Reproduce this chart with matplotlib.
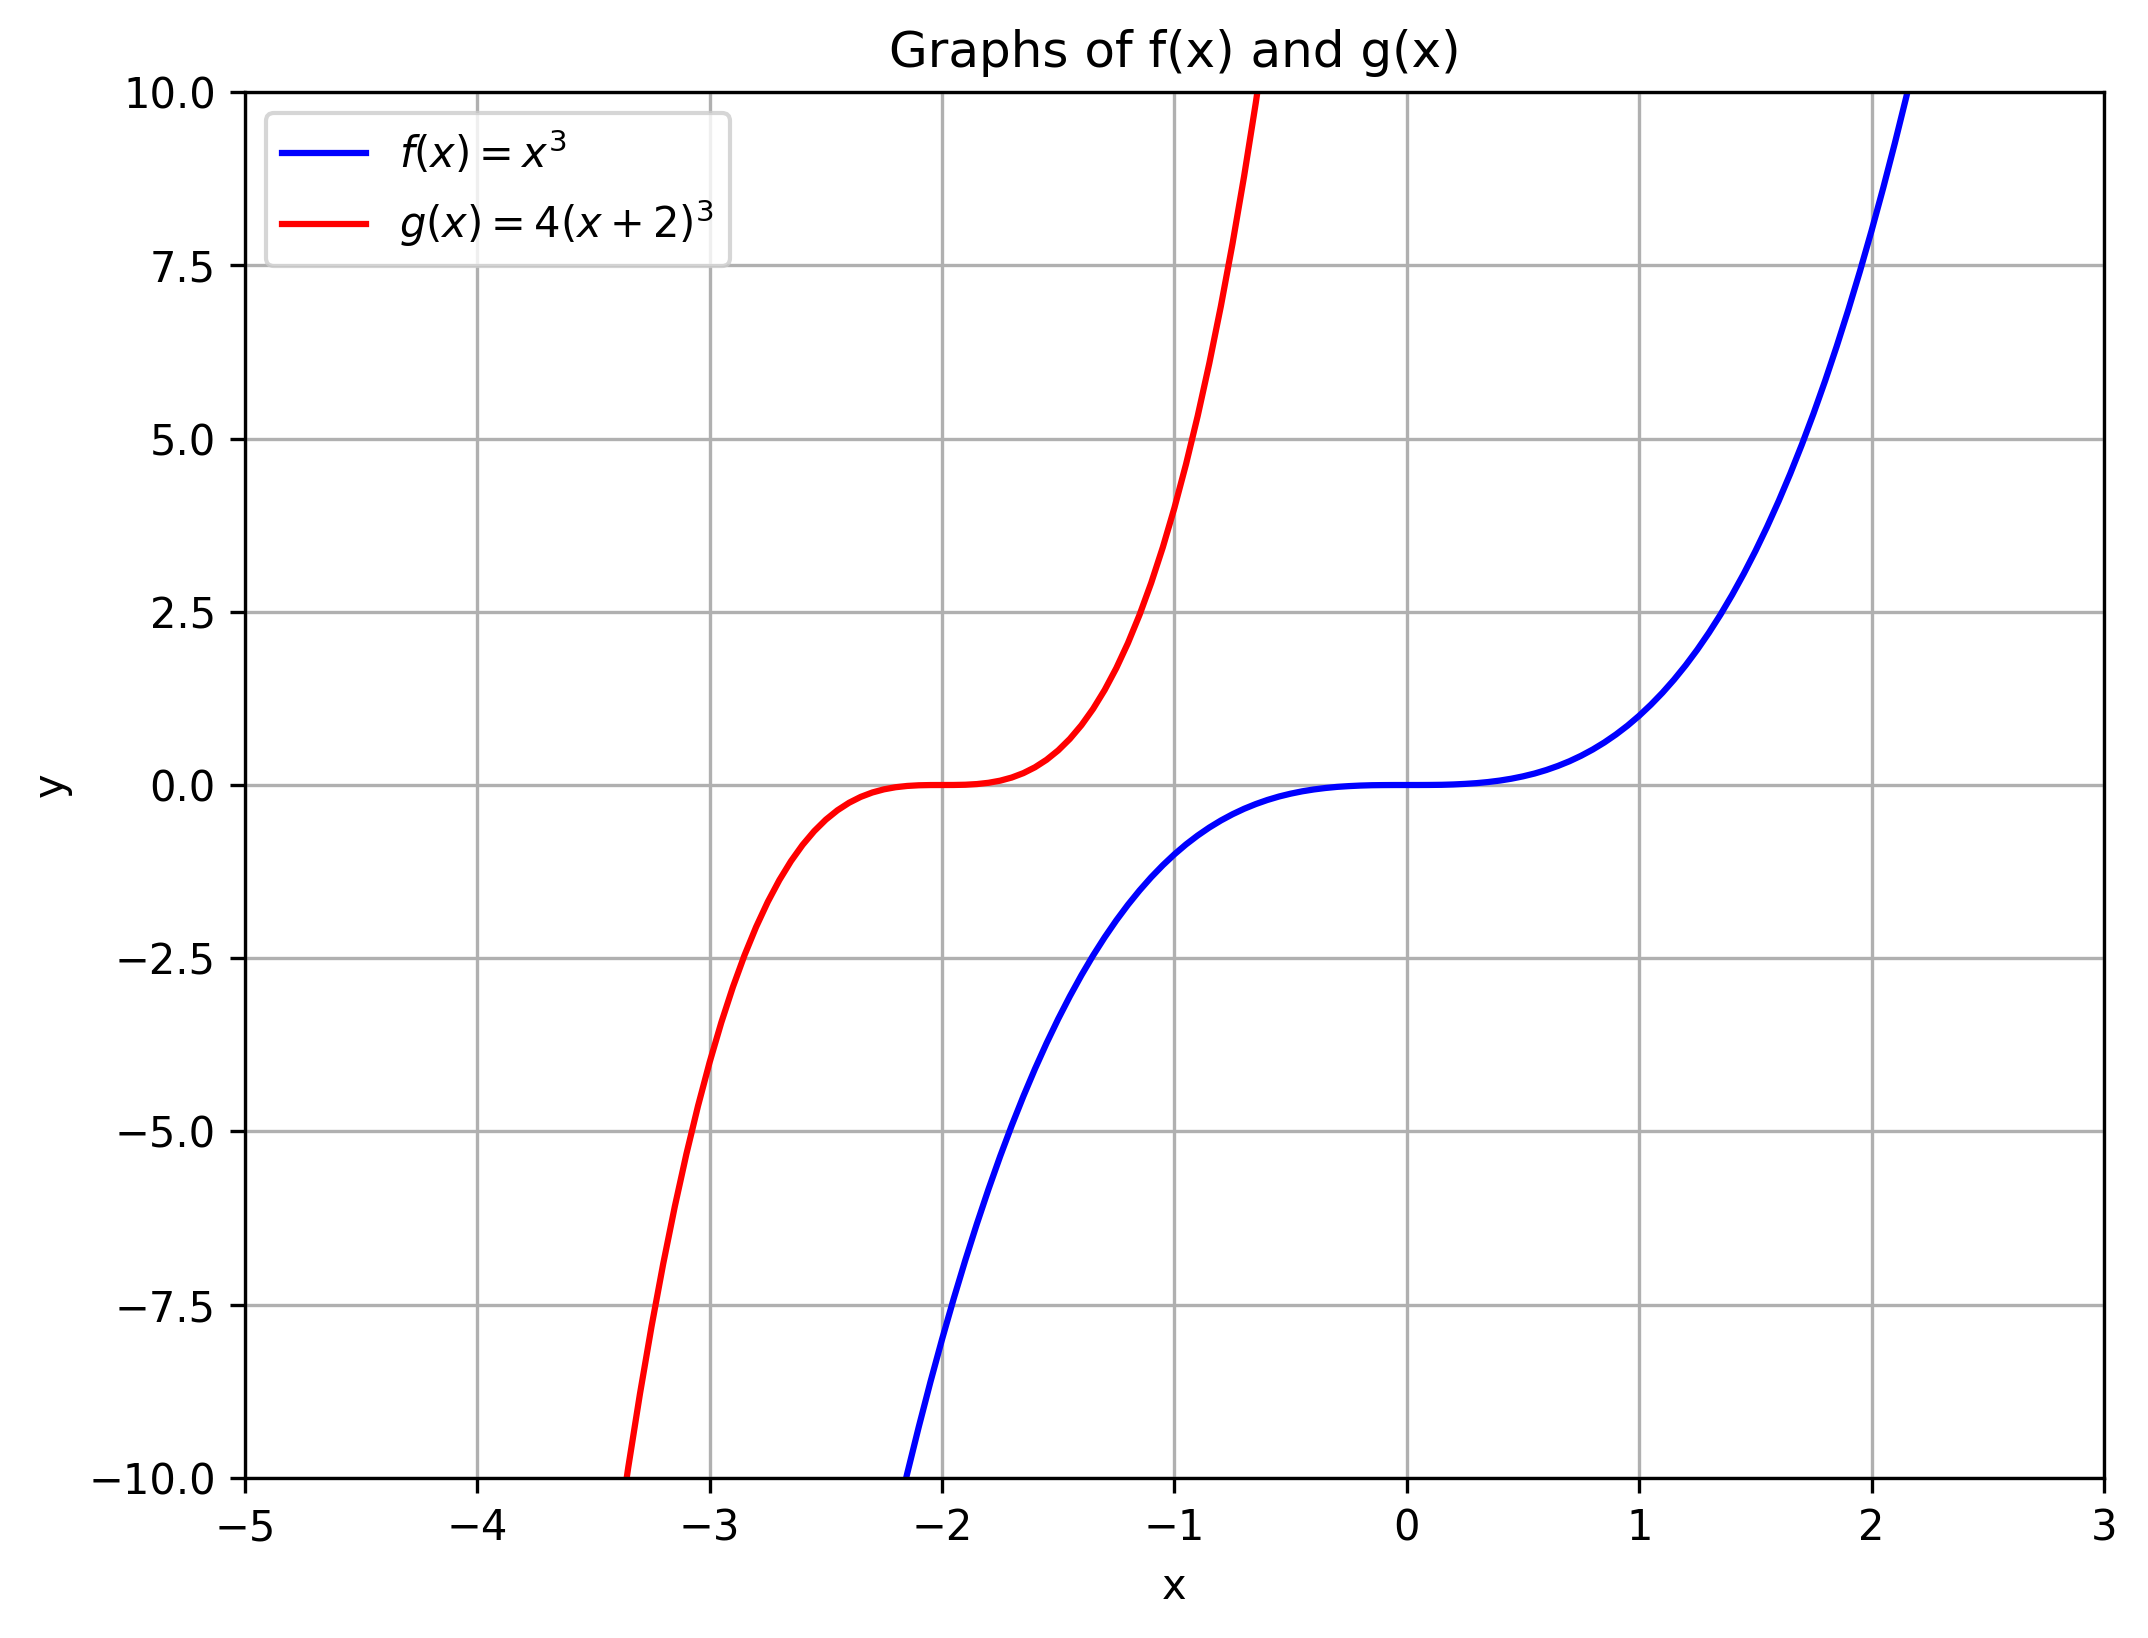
import matplotlib
matplotlib.use("Agg")
from matplotlib import pyplot as plt

# f(x) = x^3
f_x = [-2.2, -2.15, -2.1, -2.05, -2.0, -1.95, -1.9, -1.85, -1.8, -1.75, -1.7, -1.65, -1.6, -1.55,
       -1.5, -1.45, -1.4, -1.35, -1.3, -1.25, -1.2, -1.15, -1.1, -1.05, -1.0, -0.95, -0.9, -0.85,
       -0.8, -0.75, -0.7, -0.65, -0.6, -0.55, -0.5, -0.45, -0.4, -0.35, -0.3, -0.25, -0.2, -0.15,
       -0.1, -0.05, 0.0,
       0.05, 0.1, 0.15, 0.2, 0.25, 0.3, 0.35, 0.4, 0.45, 0.5, 0.55, 0.6, 0.65, 0.7, 0.75, 0.8,
       0.85, 0.9, 0.95, 1.0, 1.05, 1.1, 1.15, 1.2, 1.25, 1.3, 1.35, 1.4, 1.45, 1.5, 1.55, 1.6,
       1.65, 1.7, 1.75, 1.8, 1.85, 1.9, 1.95, 2.0, 2.05, 2.1, 2.15, 2.2]
f_y = [-10.648, -9.938, -9.261, -8.615, -8.0, -7.415, -6.859, -6.332, -5.832, -5.359, -4.913, -4.492,
       -4.096, -3.724, -3.375, -3.049, -2.744, -2.460, -2.197, -1.953, -1.728, -1.521, -1.331, -1.158,
       -1.0, -0.857, -0.729, -0.614, -0.512, -0.422, -0.343, -0.275, -0.216, -0.166, -0.125, -0.091,
       -0.064, -0.043, -0.027, -0.016, -0.008, -0.003, -0.001, -0.0001, 0.0,
       0.0001, 0.001, 0.003, 0.008, 0.016, 0.027, 0.043, 0.064, 0.091, 0.125, 0.166, 0.216, 0.275,
       0.343, 0.422, 0.512, 0.614, 0.729, 0.857, 1.0, 1.158, 1.331, 1.521, 1.728, 1.953, 2.197,
       2.460, 2.744, 3.049, 3.375, 3.724, 4.096, 4.492, 4.913, 5.359, 5.832, 6.332, 6.859, 7.415,
       8.0, 8.615, 9.261, 9.938, 10.648]

# g(x) = 4(x+2)^3
g_x = [-3.4, -3.35, -3.3, -3.25, -3.2, -3.15, -3.1, -3.05, -3.0, -2.95, -2.9, -2.85, -2.8,
       -2.75, -2.7, -2.65, -2.6, -2.55, -2.5, -2.45, -2.4, -2.35, -2.3, -2.25, -2.2, -2.15, -2.1, -2.05,
       -2.0,
       -1.95, -1.9, -1.85, -1.8, -1.75, -1.7, -1.65, -1.6, -1.55, -1.5, -1.45, -1.4, -1.35, -1.3,
       -1.25, -1.2, -1.15, -1.1, -1.05, -1.0, -0.95, -0.9, -0.85, -0.8, -0.75, -0.7, -0.65, -0.6]
g_y = [-10.976, -9.8415, -8.788, -7.8125, -6.912, -6.0835, -5.324, -4.6305, -4.0, -3.4295, -2.916, -2.4565, -2.048,
       -1.6875, -1.372, -1.0985, -0.864, -0.6655, -0.5, -0.3645, -0.256, -0.1715, -0.108, -0.0625, -0.032, -0.0135, -0.004, -0.0005,
       0.0,
       0.0005, 0.004, 0.0135, 0.032, 0.0625, 0.108, 0.1715, 0.256, 0.3645, 0.5, 0.6655, 0.864, 1.0985, 1.372,
       1.6875, 2.048, 2.4565, 2.916, 3.4295, 4.0, 4.6305, 5.324, 6.0835, 6.912, 7.8125, 8.788, 9.8415, 10.976]

fig, ax = plt.subplots(figsize=(2148 / 300, 1638 / 300), dpi=300)
fig.subplots_adjust(left=0.114, right=0.9795, top=0.9438, bottom=0.0977)

ax.plot(f_x, f_y, color="blue", label=r"$f(x) = x^3$")
ax.plot(g_x, g_y, color="red", label=r"$g(x) = 4(x + 2)^3$")

ax.set_xlim(-5, 3)
ax.set_ylim(-10, 10)
ax.set_title("Graphs of f(x) and g(x)")
ax.set_xlabel("x")
ax.set_ylabel("y")
ax.grid(True)
ax.legend(loc="upper left")

fig.savefig("out.png", dpi=300)
